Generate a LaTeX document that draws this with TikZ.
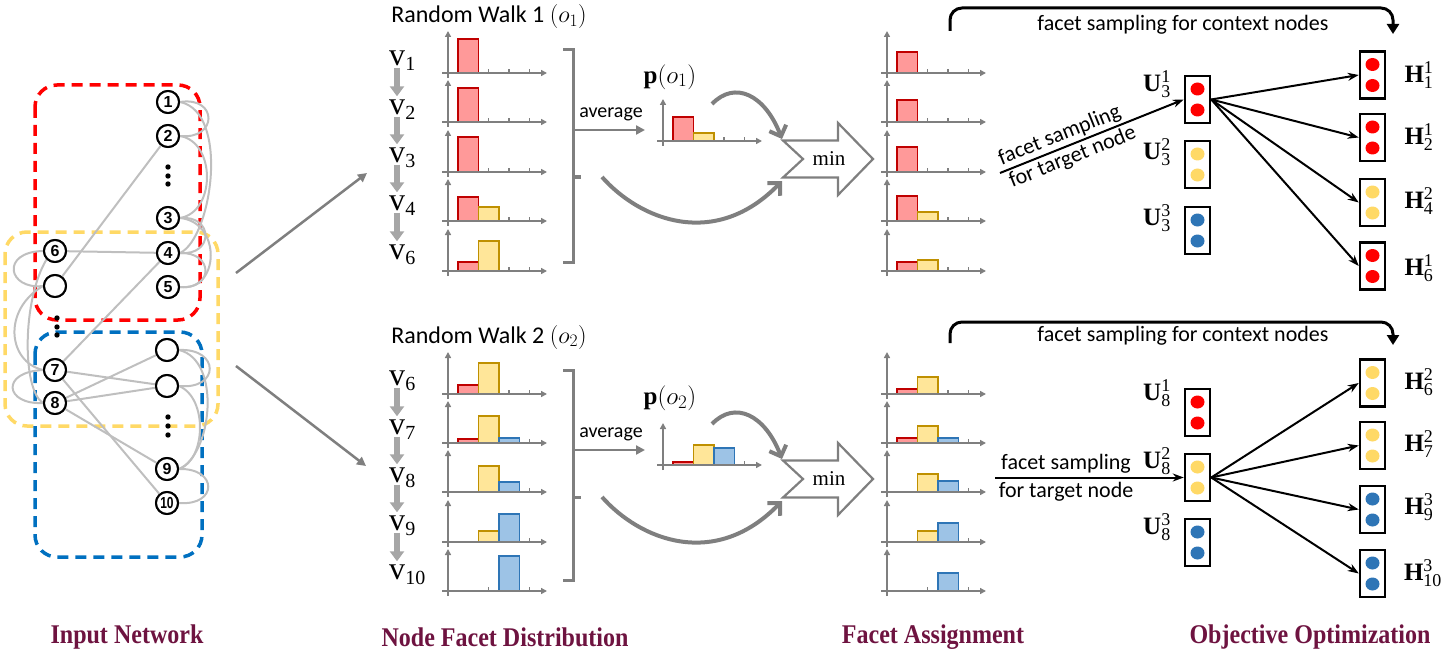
\documentclass[tikz,border=0pt]{standalone}
\usepackage{fix-cm}
\usepackage{fontspec}
\setmainfont{Liberation Serif}
\newfontfamily\calfont{Carlito}
\newfontfamily\numfont{Liberation Sans}
\usetikzlibrary{arrows.meta}
\DeclareMathSizes{22}{22}{16}{12}
\DeclareMathSizes{24}{24}{17.5}{13}
\DeclareMathSizes{25}{25}{19}{14}

\definecolor{redF}{HTML}{FF9999}
\definecolor{redD}{HTML}{C00000}
\definecolor{yelF}{HTML}{FFE699}
\definecolor{yelD}{HTML}{BF9000}
\definecolor{bluF}{HTML}{9DC3E6}
\definecolor{bluD}{HTML}{2E75B6}
\definecolor{dotR}{HTML}{FF0000}
\definecolor{dotY}{HTML}{FFD966}
\definecolor{dotB}{HTML}{2E75B6}
\definecolor{boxR}{HTML}{FF0000}
\definecolor{boxY}{HTML}{FFD966}
\definecolor{boxB}{HTML}{0070C0}
\definecolor{axg}{HTML}{7F7F7F}
\definecolor{edg}{HTML}{BFBFBF}
\definecolor{vag}{HTML}{A6A6A6}
\definecolor{maroon}{HTML}{6E1340}

\tikzset{
  axl/.style={draw=axg, line width=2.2pt, -{Triangle[width=6pt,length=6pt]}},
  tickmk/.style={draw=axg, line width=1.2pt},
  rb/.style={draw=redD, fill=redF, line width=1.2pt},
  yb/.style={draw=yelD, fill=yelF, line width=1.2pt},
  bb/.style={draw=bluD, fill=bluF, line width=1.2pt},
  dbox/.style={line width=3.5pt, dash pattern=on 11pt off 7pt, rounded corners=22pt},
  edge/.style={draw=edg, line width=2pt},
  nd/.style={circle, draw=black, line width=2pt, fill=white, minimum size=22pt, inner sep=0pt, font=\numfont\bfseries\fontsize{16}{16}\selectfont},
  grayarr/.style={draw=axg, line width=2.5pt, -{Triangle[width=9pt,length=9pt]}},
  vlab/.style={inner sep=0pt, font=\fontsize{32}{32}\selectfont},
  vsub/.style={inner sep=0pt, font=\fontsize{20}{20}\selectfont, anchor=west},
  varr/.style={draw=vag, line width=6pt, -{Triangle[width=14pt,length=10pt]}, shorten <=2pt, shorten >=3pt},
  brk/.style={draw=axg, line width=3pt},
  curv/.style={draw=axg, line width=4pt, -{Straight Barb[length=9pt,width=18pt,line width=4pt]}},
  minbox/.style={draw=axg, fill=white, line width=2.2pt, line join=miter},
  sans/.style={font=\calfont\fontsize{22}{26}\selectfont},
  ttl/.style={font=\calfont\fontsize{24}{28}\selectfont},
  avgtxt/.style={font=\calfont\fontsize{20}{24}\selectfont},
  vbox/.style={rectangle, draw=black, line width=2.5pt, fill=white, minimum width=25pt, minimum height=47pt, inner sep=0pt},
  objarr/.style={draw=black, line width=2pt, -{Stealth[length=11pt,width=8pt]}},
  ctx/.style={draw=black, line width=3pt, rounded corners=12pt, -{Triangle[width=12pt,length=10pt]}},
  mlab/.style={inner sep=0pt, font=\fontsize{25}{25}\selectfont},
  plab/.style={inner sep=0pt, font=\fontsize{25}{25}\selectfont},
  catlab/.style={font=\bfseries\fontsize{27}{27}\selectfont, text=maroon},
}

% chart: x0 (y-axis), base, hR, hY, hB
\newcommand\chart[5]{%
  \foreach \t in {30.5,51,71.5}{\draw[tickmk] (#1+10+\t,#2) -- (#1+10+\t,#2-4);}
  \ifdim #3pt>0pt \draw[rb] (#1+10,#2) rectangle (#1+30.5,#2-#3);\fi
  \ifdim #4pt>0pt \draw[yb] (#1+30.5,#2) rectangle (#1+51,#2-#4);\fi
  \ifdim #5pt>0pt \draw[bb] (#1+51,#2) rectangle (#1+71.5,#2-#5);\fi
  \draw[axl] (#1-6,#2) -- (#1+99,#2);
  \draw[axl] (#1,#2+5) -- (#1,#2-42);
}
\newcommand\minarrow[2]{%
  \draw[minbox] (783,#1-18.5) -- (838,#1-18.5) -- (838,#1-36) -- (873,#1) -- (838,#1+36) -- (838,#1+18.5) -- (783,#1+18.5) -- (803,#1) -- cycle;
  \node[font=\fontsize{21}{21}\selectfont] (#2) at (829,#1) {min};
}
\newcommand\twodots[2]{%
  \fill[#2] ([yshift=10.5pt]#1.center) ellipse [x radius=7pt, y radius=6.5pt];
  \fill[#2] ([yshift=-10.5pt]#1.center) ellipse [x radius=7pt, y radius=6.5pt];
}
\newcommand\cattext[1]{\scalebox{0.89}[1]{#1}}
\newcommand\scr[1]{\mbox{\fontsize{18}{18}\selectfont #1}}
\newcommand\ml[3]{$\mathbf{#1}_{\scr{#2}}^{\scr{#3}}$}

\begin{document}
\begin{tikzpicture}[x=1pt,y=-1pt]
\useasboundingbox (0,0) rectangle (1446,658);

% ---------------- Input network ----------------
\draw[dbox, draw=boxY] (5,232) rectangle (218,426);
\draw[dbox, draw=boxB] (35,332) rectangle (202,557);
\draw[dbox, draw=boxR] (35,85) rectangle (200,320);

\node[nd] (n1) at (168,102) {1};
\node[nd] (n2) at (168,136) {2};
\node[nd] (n3) at (168,218) {3};
\node[nd] (n4) at (168,253) {4};
\node[nd] (n5) at (168,287) {5};
\node[nd] (n6) at (55,251) {6};
\node[nd] (ne) at (55,286) {};
\node[nd] (n7) at (55,370) {7};
\node[nd] (n8) at (55,403) {8};
\node[nd] (r1) at (167,350) {};
\node[nd] (r2) at (167,386) {};
\node[nd] (n9) at (167,469) {9};
\node[nd] (n10) at (167,503) {\scalebox{0.75}[1]{10}};

% edges
\draw[edge] (n2) -- (ne);
\draw[edge] (n6) -- (n4);
\draw[edge] (n4) -- (n7);
\draw[edge] (n7) -- (r2);
\draw[edge] (n8) -- (r1);
\draw[edge] (n8) -- (r2);
\draw[edge] (n7) -- (n10);
\draw[edge] (n8) -- (n9);
\draw[edge] (n1.east) .. controls (218,96) and (218,140) .. (n2.east);
\draw[edge] (n1.east) .. controls (230,112) and (212,238) .. (n4.east);
\draw[edge] (n2.east) .. controls (216,142) and (216,212) .. (n3.east);
\draw[edge] (n3.east) .. controls (214,215) and (214,256) .. (n4.east);
\draw[edge] (n3.east) .. controls (222,222) and (220,292) .. (n5.east);
\draw[edge] (n4.east) .. controls (214,252) and (214,290) .. (n5.east);
\draw[edge] (n6.west) .. controls (0,252) and (8,290) .. (ne.west);
\draw[edge] (n6.south west) .. controls (22,300) and (22,390) .. (n8.west);
\draw[edge] (ne.west) .. controls (2,310) and (8,362) .. (n7.west);
\draw[edge] (n7.west) .. controls (0,372) and (5,405) .. (n8.west);
\draw[edge] (r1.east) .. controls (220,348) and (220,390) .. (r2.east);
\draw[edge] (r1.east) .. controls (222,360) and (212,455) .. (n9.east);
\draw[edge] (r2.east) .. controls (208,398) and (206,460) .. (n9.east);
\draw[edge] (n9.east) .. controls (218,468) and (218,506) .. (n10.east);

% redraw nodes on top of the edges
\node[nd] at (n1) {1};
\node[nd] at (n2) {2};
\node[nd] at (n3) {3};
\node[nd] at (n4) {4};
\node[nd] at (n5) {5};
\node[nd] at (n6) {6};
\node[nd] at (ne) {};
\node[nd] at (n7) {7};
\node[nd] at (n8) {8};
\node[nd] at (r1) {};
\node[nd] at (r2) {};
\node[nd] at (n9) {9};
\node[nd] at (n10) {\scalebox{0.75}[1]{10}};

\foreach \yy in {167,176,184}{\fill[black] (168,\yy) circle[radius=2.7pt];}
\foreach \yy in {318,327,335}{\fill[black] (57,\yy) circle[radius=2.7pt];}
\foreach \yy in {417,426,435}{\fill[black] (168,\yy) circle[radius=2.7pt];}

% arrows to random walks
\coordinate (netA) at (236,273); \coordinate (rwA) at (367,173);
\coordinate (netB) at (236,366); \coordinate (rwB) at (366,466);
\draw[grayarr] (netA) -- (rwA);
\draw[grayarr] (netB) -- (rwB);

% ---------------- Random walk 1 ----------------
\node[ttl] (rw1) at (489,17) {Random Walk 1 $(o_1)$};
\node[vlab] (v1) at (397,58) {v};  \node[vsub] at ([yshift=-6pt]v1.east) {1};
\node[vlab] (v2) at (397,107) {v}; \node[vsub] at ([yshift=-6pt]v2.east) {2};
\node[vlab] (v3) at (397,155) {v}; \node[vsub] at ([yshift=-6pt]v3.east) {3};
\node[vlab] (v4) at (397,203) {v}; \node[vsub] at ([yshift=-6pt]v4.east) {4};
\node[vlab] (v6) at (397,252) {v}; \node[vsub] at ([yshift=-6pt]v6.east) {6};
\draw[varr] (v1.south) -- (v2.north);
\draw[varr] (v2.south) -- (v3.north);
\draw[varr] (v3.south) -- (v4.north);
\draw[varr] (v4.south) -- (v6.north);

\chart{448}{73}{34}{0}{0}
\chart{448}{122}{34}{0}{0}
\chart{448}{172}{35}{0}{0}
\chart{448}{221}{24}{14}{0}
\chart{448}{271}{9}{30}{0}

\draw[brk] (563,50) -- (573,50) -- (573,262) -- (563,262);
\draw[brk] (573,177) -- (581,177);
\coordinate (avgS1) at (573,130); \coordinate (avgE1) at (645,130);
\draw[grayarr, line width=2.2pt] (avgS1) -- (avgE1);
\node[avgtxt] (avg1) at (611,114) {average};

\node[plab] (p1) at (670,77) {$\mathbf{p}(o_1)$};
\chart{663}{141}{24}{8}{0}

\minarrow{159}{min1}
\coordinate (up1s) at (712,104); \coordinate (mt1) at (782,139);
\coordinate (lo1s) at (602,177); \coordinate (mb1) at (782,181);
\draw[curv] (up1s) .. controls (735,80) and (765,95) .. (mt1);
\draw[curv] (lo1s) .. controls (640,220) and (715,250) .. (mb1);

\chart{887}{73}{21}{0}{0}
\chart{887}{122}{22}{0}{0}
\chart{887}{172}{25}{0}{0}
\chart{887}{221}{25}{9}{0}
\chart{887}{271}{9}{11}{0}

% ---------------- Random walk 2 ----------------
\node[ttl] (rw2) at (489,337) {Random Walk 2 $(o_2)$};
\node[vlab] (w6) at (397,378) {v};  \node[vsub] at ([yshift=-6pt]w6.east) {6};
\node[vlab] (w7) at (397,427) {v};  \node[vsub] at ([yshift=-6pt]w7.east) {7};
\node[vlab] (w8) at (397,475) {v};  \node[vsub] at ([yshift=-6pt]w8.east) {8};
\node[vlab] (w9) at (397,523) {v};  \node[vsub] at ([yshift=-6pt]w9.east) {9};
\node[vlab] (w10) at (397,572) {v}; \node[vsub] at ([yshift=-6pt]w10.east) {10};
\draw[varr] (w6.south) -- (w7.north);
\draw[varr] (w7.south) -- (w8.north);
\draw[varr] (w8.south) -- (w9.north);
\draw[varr] (w9.south) -- (w10.north);

\chart{448}{394}{9}{31}{0}
\chart{448}{443}{4}{27}{5}
\chart{448}{492}{0}{26}{10}
\chart{448}{542}{0}{11}{28}
\chart{448}{591}{0}{0}{35}

\draw[brk] (563,370) -- (573,370) -- (573,580) -- (563,580);
\draw[brk] (573,497) -- (581,497);
\coordinate (avgS2) at (573,450); \coordinate (avgE2) at (645,450);
\draw[grayarr, line width=2.2pt] (avgS2) -- (avgE2);
\node[avgtxt] (avg2) at (611,434) {average};

\node[plab] (p2) at (670,398) {$\mathbf{p}(o_2)$};
\chart{663}{465}{3}{20}{17}

\minarrow{479}{min2}
\coordinate (up2s) at (712,424); \coordinate (mt2) at (782,459);
\coordinate (lo2s) at (602,497); \coordinate (mb2) at (782,501);
\draw[curv] (up2s) .. controls (735,400) and (765,415) .. (mt2);
\draw[curv] (lo2s) .. controls (640,540) and (715,570) .. (mb2);

\chart{887}{394}{5}{17}{0}
\chart{887}{443}{5}{17}{5}
\chart{887}{492}{0}{18}{11}
\chart{887}{542}{0}{11}{19}
\chart{887}{591}{0}{0}{18}

% ---------------- Objective optimization (top) ----------------
\coordinate (c1a) at (950,31); \coordinate (c1b) at (1393,34);
\draw[ctx] (c1a) -- (950,8) -- (1393,8) -- (c1b);
\node[sans] (ctxt1) at (1183,25) {facet sampling for context nodes};

\node[vbox] (U31) at (1197.5,99.5) {};  \twodots{U31}{dotR}
\node[vbox] (U32) at (1197.5,164.5) {}; \twodots{U32}{dotY}
\node[vbox] (U33) at (1197.5,230.5) {}; \twodots{U33}{dotB}
\node[mlab] (lU31) at (1157,84) {\ml{U}{3}{1}};
\node[mlab] (lU32) at (1157,152) {\ml{U}{3}{2}};
\node[mlab] (lU33) at (1157,218) {\ml{U}{3}{3}};

\node[vbox] (H11) at (1372.5,75) {};  \twodots{H11}{dotR}
\node[vbox] (H21) at (1372.5,137.5) {}; \twodots{H21}{dotR}
\node[vbox] (H42) at (1372.5,202.5) {}; \twodots{H42}{dotY}
\node[vbox] (H61) at (1372.5,266) {};  \twodots{H61}{dotR}
\node[mlab] (lH11) at (1419,75) {\ml{H}{1}{1}};
\node[mlab] (lH21) at (1419,137) {\ml{H}{2}{1}};
\node[mlab] (lH42) at (1419,201) {\ml{H}{4}{2}};
\node[mlab] (lH61) at (1419,268) {\ml{H}{6}{1}};

\draw[objarr] (U31.east) -- (H11.west);
\draw[objarr] (U31.east) -- (H21.west);
\draw[objarr] (U31.east) -- (H42.west);
\draw[objarr] (U31.east) -- (H61.west);

\coordinate (tg1) at (1000,173);
\draw[objarr] (tg1) -- (U31.west)
  node[pos=0.35, sloped, above, sans, inner sep=2pt] {facet sampling}
  node[pos=0.37, sloped, below, sans, inner sep=2pt] {for target node};

% ---------------- Objective optimization (bottom) ----------------
\coordinate (c2a) at (950,343); \coordinate (c2b) at (1393,345);
\draw[ctx] (c2a) -- (950,322) -- (1393,322) -- (c2b);
\node[sans] (ctxt2) at (1183,336) {facet sampling for context nodes};

\node[vbox] (U81) at (1197.5,412.5) {}; \twodots{U81}{dotR}
\node[vbox] (U82) at (1197.5,477.5) {}; \twodots{U82}{dotY}
\node[vbox] (U83) at (1197.5,542.5) {}; \twodots{U83}{dotB}
\node[mlab] (lU81) at (1157,393) {\ml{U}{8}{1}};
\node[mlab] (lU82) at (1157,461) {\ml{U}{8}{2}};
\node[mlab] (lU83) at (1157,527) {\ml{U}{8}{3}};

\node[vbox] (H62) at (1372.5,383) {};   \twodots{H62}{dotY}
\node[vbox] (H72) at (1372.5,445.5) {}; \twodots{H72}{dotY}
\node[vbox] (H93) at (1372.5,509.5) {}; \twodots{H93}{dotB}
\node[vbox] (H103) at (1372.5,573.5) {}; \twodots{H103}{dotB}
\node[mlab] (lH62) at (1419,382) {\ml{H}{6}{2}};
\node[mlab] (lH72) at (1419,444) {\ml{H}{7}{2}};
\node[mlab] (lH93) at (1419,507) {\ml{H}{9}{3}};
\node[mlab] (lH103) at (1423,573) {\ml{H}{10}{3}};

\draw[objarr] (U82.east) -- (H62.west);
\draw[objarr] (U82.east) -- (H72.west);
\draw[objarr] (U82.east) -- (H93.west);
\draw[objarr] (U82.east) -- (H103.west);

\coordinate (tg2) at (995,477.5);
\draw[objarr] (tg2) -- (U82.west);
\node[sans] (fs2) at (1066,464) {facet sampling};
\node[sans] (ft2) at (1066,492) {for target node};

% ---------------- Category labels ----------------
\node[catlab] (cat1) at (127,637) {\cattext{Input Network}};
\node[catlab] (cat2) at (505,637) {\cattext{Node Facet Distribution}};
\node[catlab] (cat3) at (933,637) {\cattext{Facet Assignment}};
\node[catlab] (cat4) at (1310,637) {\cattext{Objective Optimization}};
\end{tikzpicture}
\end{document}
